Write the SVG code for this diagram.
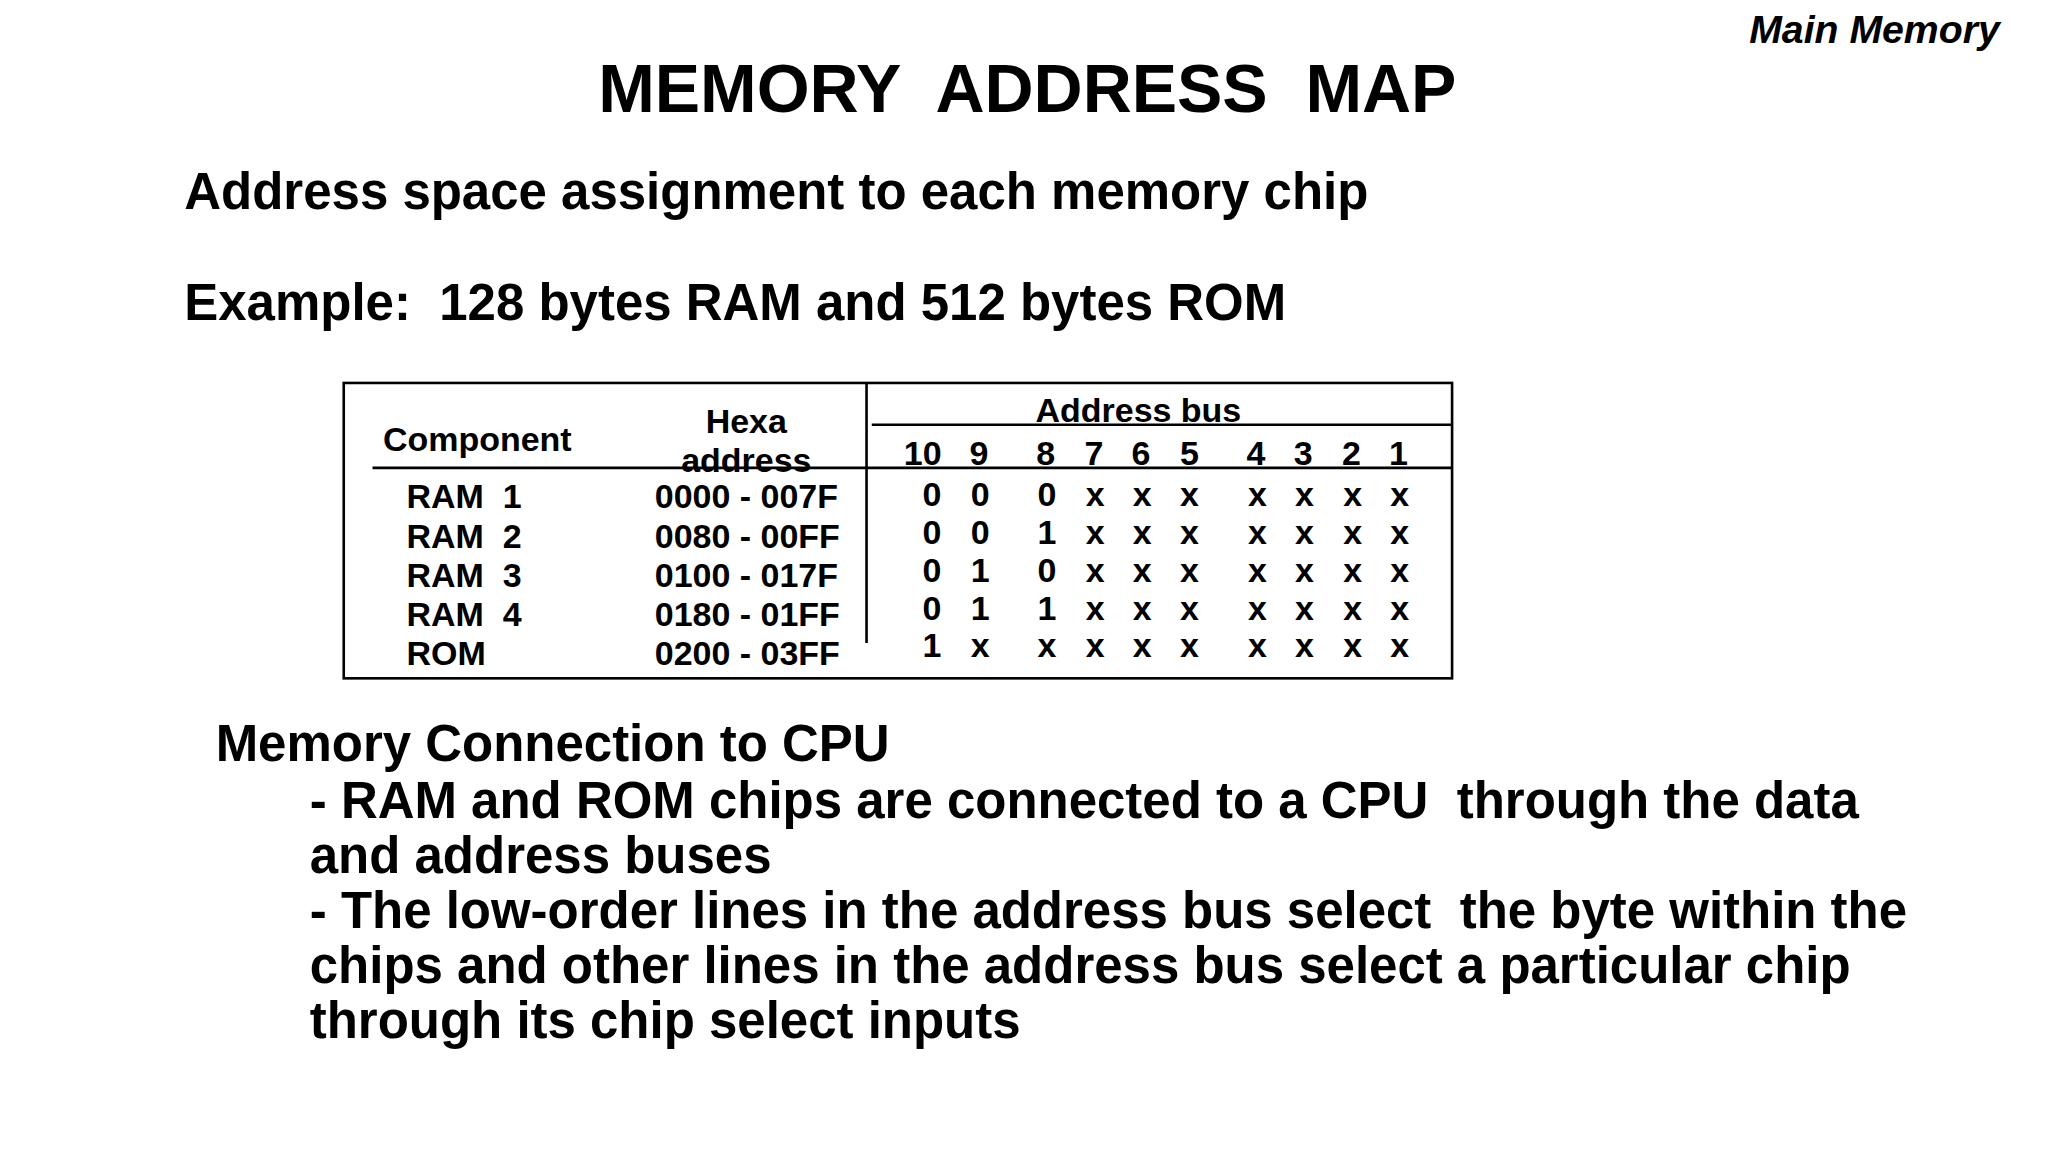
<svg xmlns="http://www.w3.org/2000/svg" width="2048" height="1152" viewBox="0 0 2048 1152">
<style>
text{font-family:"Liberation Sans",Arial,sans-serif;font-weight:bold;fill:#000}
.b{font-size:39px}
.t{font-size:26px}
.c{text-anchor:middle}
line,rect{stroke:#000;stroke-width:2;fill:none}
</style>
<rect width="2048" height="1152" fill="#fff" style="stroke:none"/>
<g transform="scale(1.307)">
<g id="header">
<text x="1530" y="33" style="font-size:30px;font-style:italic" text-anchor="end">Main Memory</text>
<text x="786" y="86" class="c" style="font-size:52px" xml:space="preserve">MEMORY  ADDRESS  MAP</text>
<text x="141" y="160" class="b">Address space assignment to each memory chip</text>
<text x="141" y="245" class="b" xml:space="preserve">Example:  128 bytes RAM and 512 bytes ROM</text>
</g>
<g id="table">
<rect x="263" y="293" width="848" height="226"/>
<line x1="663" y1="293" x2="663" y2="492"/>
<line x1="667" y1="325" x2="1111" y2="325"/>
<line x1="285" y1="358" x2="1111" y2="358"/>
<text x="871" y="323" class="t c">Address bus</text>
<text x="293" y="345" class="t">Component</text>
<text x="571" y="331" class="t c">Hexa</text>
<text x="571" y="361" class="t c">address</text>
<text y="356" class="t c"><tspan x="706">10</tspan><tspan x="749">9</tspan><tspan x="800">8</tspan><tspan x="837">7</tspan><tspan x="873">6</tspan><tspan x="910">5</tspan><tspan x="961">4</tspan><tspan x="997">3</tspan><tspan x="1034">2</tspan><tspan x="1070">1</tspan></text>
<text x="311" y="389" class="t" xml:space="preserve">RAM  1</text>
<text x="311" y="419" class="t" xml:space="preserve">RAM  2</text>
<text x="311" y="449" class="t" xml:space="preserve">RAM  3</text>
<text x="311" y="479" class="t" xml:space="preserve">RAM  4</text>
<text x="311" y="509" class="t">ROM</text>
<text x="501" y="389" class="t">0000 - 007F</text>
<text x="501" y="419" class="t">0080 - 00FF</text>
<text x="501" y="449" class="t">0100 - 017F</text>
<text x="501" y="479" class="t">0180 - 01FF</text>
<text x="501" y="509" class="t">0200 - 03FF</text>
<text y="387" class="t c"><tspan x="713">0</tspan><tspan x="750">0</tspan><tspan x="801">0</tspan><tspan x="838">x</tspan><tspan x="874">x</tspan><tspan x="910">x</tspan><tspan x="962">x</tspan><tspan x="998">x</tspan><tspan x="1035">x</tspan><tspan x="1071">x</tspan></text>
<text y="416" class="t c"><tspan x="713">0</tspan><tspan x="750">0</tspan><tspan x="801">1</tspan><tspan x="838">x</tspan><tspan x="874">x</tspan><tspan x="910">x</tspan><tspan x="962">x</tspan><tspan x="998">x</tspan><tspan x="1035">x</tspan><tspan x="1071">x</tspan></text>
<text y="445" class="t c"><tspan x="713">0</tspan><tspan x="750">1</tspan><tspan x="801">0</tspan><tspan x="838">x</tspan><tspan x="874">x</tspan><tspan x="910">x</tspan><tspan x="962">x</tspan><tspan x="998">x</tspan><tspan x="1035">x</tspan><tspan x="1071">x</tspan></text>
<text y="474" class="t c"><tspan x="713">0</tspan><tspan x="750">1</tspan><tspan x="801">1</tspan><tspan x="838">x</tspan><tspan x="874">x</tspan><tspan x="910">x</tspan><tspan x="962">x</tspan><tspan x="998">x</tspan><tspan x="1035">x</tspan><tspan x="1071">x</tspan></text>
<text y="503" class="t c"><tspan x="713">1</tspan><tspan x="750">x</tspan><tspan x="801">x</tspan><tspan x="838">x</tspan><tspan x="874">x</tspan><tspan x="910">x</tspan><tspan x="962">x</tspan><tspan x="998">x</tspan><tspan x="1035">x</tspan><tspan x="1071">x</tspan></text>
</g>
<g id="body">
<text x="165" y="582" class="b">Memory Connection to CPU</text>
<text x="237" y="626" class="b" xml:space="preserve">- RAM and ROM chips are connected to a CPU  through the data</text>
<text x="237" y="668" class="b">and address buses</text>
<text x="237" y="710" class="b" xml:space="preserve">- The low-order lines in the address bus select  the byte within the</text>
<text x="237" y="752" class="b">chips and other lines in the address bus select a particular chip</text>
<text x="237" y="794" class="b">through its chip select inputs</text>
</g>
</g>
</svg>
